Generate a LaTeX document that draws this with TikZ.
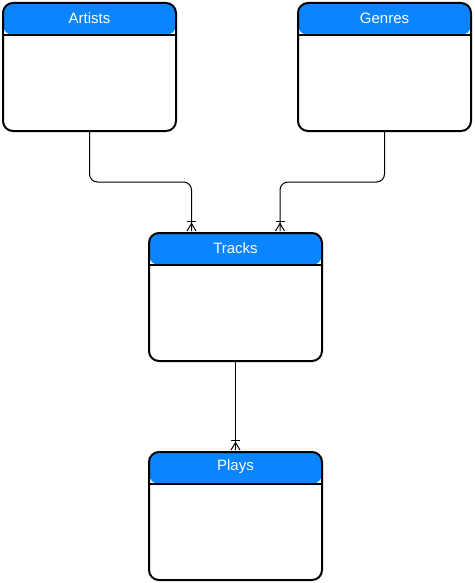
\documentclass[tikz,border=0pt]{standalone}
\usepackage{fontspec}
\setmainfont{Liberation Sans}
\usetikzlibrary{calc}
\definecolor{hdr}{RGB}{10,132,255}
\tikzset{
  entity/.style={draw=black, line width=2pt, rounded corners=10pt, minimum width=173pt, minimum height=128pt, inner sep=0pt, fill=white,
    path picture={\fill[hdr] (path picture bounding box.north west) rectangle ([yshift=-32pt]path picture bounding box.north east);
      \draw[line width=1.5pt] ([yshift=-32pt]path picture bounding box.north west) -- ([yshift=-32pt]path picture bounding box.north east);}},
  title/.style={text=white, font=\fontsize{15}{18}\selectfont, anchor=center},
  conn/.style={draw=black, line width=1pt},
}
\newcommand\crowfoot[1]{%
  \draw[conn] ($(#1)+(-4.5,-10)$) -- ($(#1)+(4.5,-10)$);
  \draw[conn] ($(#1)+(-4.5,0)$) -- ($(#1)+(0,-7.5)$) -- ($(#1)+(4.5,0)$);}
\begin{document}
\begin{tikzpicture}[x=1pt,y=-1pt]
\useasboundingbox (0,0) rectangle (474,583);
\node[entity] (artists) at (89.5,67) {};
\node[entity] (genres) at (384.5,67) {};
\node[entity] (tracks) at (235.5,297) {};
\node[entity] (plays) at (235.5,516) {};
\node[title] (artistsT) at ($(artists.north)+(0,16)$) {Artists};
\node[title] (genresT) at ($(genres.north)+(0,16)$) {Genres};
\node[title] (tracksT) at ($(tracks.north)+(0,16)$) {Tracks};
\node[title] (playsT) at ($(plays.north)+(0,16)$) {Plays};
\coordinate (tA) at ($(tracks.north)+(-44,-1)$);
\coordinate (tG) at ($(tracks.north)+(44.5,-1)$);
\coordinate (pT) at ($(plays.north)+(0,-1)$);
\draw[conn, rounded corners=8pt] (artists.south) |- ($(tA)+(0,-49)$) -- (tA);
\draw[conn, rounded corners=8pt] (genres.south) |- ($(tG)+(0,-49)$) -- (tG);
\draw[conn] (tracks.south) -- (pT);
\crowfoot{tA}
\crowfoot{tG}
\crowfoot{pT}
\end{tikzpicture}
\end{document}
